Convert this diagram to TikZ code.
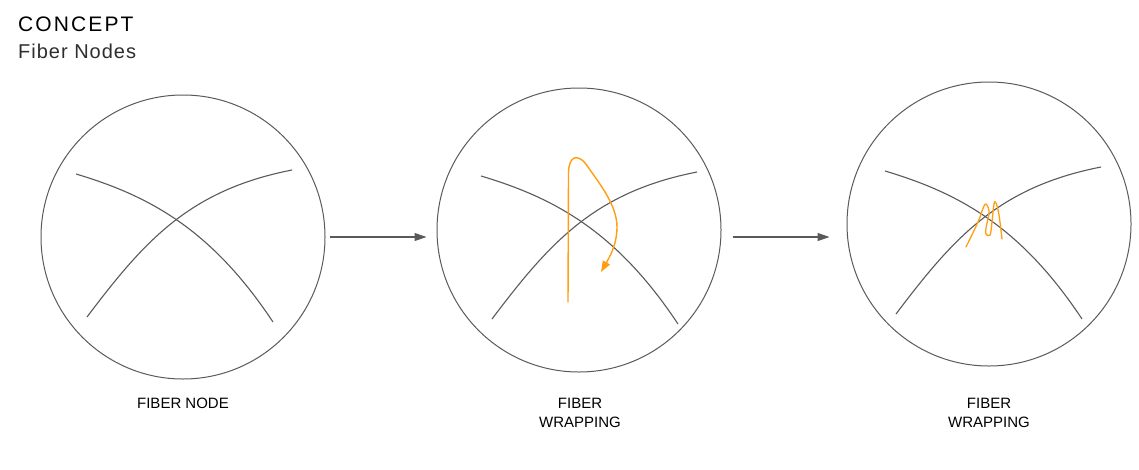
\documentclass[tikz,border=0pt]{standalone}
\usepackage{fontspec}
\setmainfont{Liberation Sans}
\newfontfamily\titlefont[LetterSpace=10]{Liberation Sans}
\newfontfamily\subtitlefont[LetterSpace=5]{Liberation Sans}
\usetikzlibrary{arrows.meta}
\definecolor{ink}{HTML}{5A5A5A}
\definecolor{fiberorange}{HTML}{FF9E10}
\tikzset{
  ring/.style={circle, draw=ink, line width=1pt, minimum size=284pt, inner sep=0pt},
  fiber/.style={draw=ink, line width=1.1pt},
  flow/.style={draw=ink, line width=1.1pt, -{Triangle[length=12pt,width=8pt]}},
  wrap/.style={draw=fiberorange, line width=1.4pt, line cap=round, line join=round},
  caption/.style={font=\fontsize{15}{19}\selectfont, align=center, text=black, inner sep=0pt},
}
\newcommand{\fibercross}{%
  \draw[fiber] (76,174) .. controls (150,196) and (212,230) .. (273,322);
  \draw[fiber] (87,317) .. controls (145,240) and (190,190) .. (292,170);
}
\begin{document}
\begin{tikzpicture}[x=1pt, y=-1pt]
\useasboundingbox[fill=white] (0,0) rectangle (1139,469);

% title
\node[anchor=base west, inner sep=0pt, font=\titlefont\fontsize{21}{25}\selectfont, text=black] (title) at (18,31) {CONCEPT};
\node[anchor=base west, inner sep=0pt, font=\subtitlefont\fontsize{20}{24}\selectfont, text=black!82] (subtitle) at (18,58) {Fiber Nodes};

% circles
\node[ring] (c1) at (183,237) {};
\node[ring] (c2) at (579,230) {};
\node[ring] (c3) at (989,224) {};

% fibers
\begin{scope}
  \fibercross
\end{scope}
\begin{scope}[shift={(405,2)}]
  \fibercross
\end{scope}
\begin{scope}[shift={(809,-3)}]
  \fibercross
\end{scope}

% orange wrapping path (middle)
\draw[wrap, -{Triangle[length=11pt,width=8pt]}] (568,302) -- (568.5,172)
  .. controls (569,156) and (578,152) .. (588,167)
  .. controls (599,183) and (617,205) .. (617,227)
  .. controls (617,245) and (609,258) .. (601,272);

% orange tangle (right)
\draw[wrap, line width=1.3pt] plot[smooth, tension=0.6] coordinates {(966,247) (978,222) (984,206) (987,205) (989,213) (986,228) (986,234) (990,235) (992,222) (994,204) (996,203) (999,215) (1002,239)};

% arrows
\coordinate (a1s) at ([xshift=4pt]c1.east);
\coordinate (a1e) at ([xshift=-10pt]c2.west |- c1.east);
\coordinate (a2s) at ([xshift=11pt]c2.east |- c1.east);
\coordinate (a2e) at ([xshift=-17pt]c3.west |- c1.east);
\draw[flow] (a1s) -- (a1e);
\draw[flow] (a2s) -- (a2e);

% captions
\node[caption, anchor=base] (l1) at (183,408) {FIBER NODE};
\node[caption, anchor=base] (l2) at (580,427) {FIBER\\WRAPPING};
\node[caption, anchor=base] (l3) at (989,427) {FIBER\\WRAPPING};
\end{tikzpicture}
\end{document}
